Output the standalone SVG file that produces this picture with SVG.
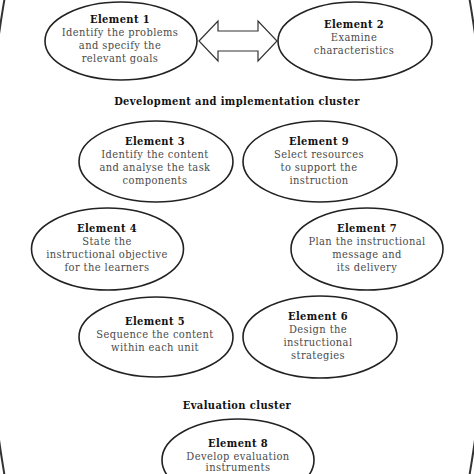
<svg xmlns="http://www.w3.org/2000/svg" width="474" height="474" viewBox="0 0 474 474">
<style>
.n ellipse{fill:#fff;stroke:#222;stroke-width:1.6}
text{font-family:"DejaVu Serif Condensed","DejaVu Serif",serif;font-size:11px;letter-spacing:0.4px;text-anchor:middle}
.h{font-weight:bold;fill:#111}
.b{fill:#4a4a4a}
.t{font-weight:bold;fill:#111}
</style>
<rect width="474" height="474" fill="#fff"/>
<ellipse cx="237" cy="237" rx="252" ry="617" fill="none" stroke="#333" stroke-width="2"/>
<text class="t" x="237" y="105">Development and implementation cluster</text>
<text class="t" x="237" y="408.5">Evaluation cluster</text>
<g id="connectors">
<polygon points="199,41 218,21 218,31 258,31 258,21 277,41 258,61 258,51 218,51 218,61" fill="#fff" stroke="#333" stroke-width="1.2"/>
</g>
<g id="e1" class="n"><ellipse cx="121" cy="41" rx="76" ry="39"/>
<text class="h" x="120" y="23">Element 1</text>
<text class="b" x="120" y="36">Identify the problems</text>
<text class="b" x="120" y="49">and specify the</text>
<text class="b" x="120" y="62">relevant goals</text></g>
<g id="e2" class="n"><ellipse cx="355" cy="41" rx="77" ry="39"/>
<text class="h" x="354" y="28">Element 2</text>
<text class="b" x="354" y="41">Examine</text>
<text class="b" x="354" y="54">characteristics</text></g>
<g id="e3" class="n"><ellipse cx="156" cy="161.5" rx="77" ry="40.5"/>
<text class="h" x="155" y="145">Element 3</text>
<text class="b" x="155" y="158">Identify the content</text>
<text class="b" x="155" y="171">and analyse the task</text>
<text class="b" x="155" y="184">components</text></g>
<g id="e9" class="n"><ellipse cx="320" cy="161.5" rx="77" ry="40.5"/>
<text class="h" x="319" y="145">Element 9</text>
<text class="b" x="319" y="158">Select resources</text>
<text class="b" x="319" y="171">to support the</text>
<text class="b" x="319" y="184">instruction</text></g>
<g id="e4" class="n"><ellipse cx="107.5" cy="249" rx="76" ry="41"/>
<text class="h" x="107" y="232">Element 4</text>
<text class="b" x="107" y="245">State the</text>
<text class="b" x="107" y="258">instructional objective</text>
<text class="b" x="107" y="271">for the learners</text></g>
<g id="e7" class="n"><ellipse cx="367" cy="249" rx="76" ry="41"/>
<text class="h" x="367" y="232">Element 7</text>
<text class="b" x="367" y="245">Plan the instructional</text>
<text class="b" x="367" y="258">message and</text>
<text class="b" x="367" y="271">its delivery</text></g>
<g id="e5" class="n"><ellipse cx="156" cy="337" rx="77" ry="40"/>
<text class="h" x="155" y="325">Element 5</text>
<text class="b" x="155" y="338">Sequence the content</text>
<text class="b" x="155" y="351">within each unit</text></g>
<g id="e6" class="n"><ellipse cx="320" cy="337" rx="77" ry="41"/>
<text class="h" x="318" y="320">Element 6</text>
<text class="b" x="318" y="333">Design the</text>
<text class="b" x="318" y="346">instructional</text>
<text class="b" x="318" y="359">strategies</text></g>
<g id="e8" class="n"><ellipse cx="238" cy="460" rx="76" ry="41"/>
<text class="h" x="238" y="447">Element 8</text>
<text class="b" x="238" y="459.5">Develop evaluation</text>
<text class="b" x="238" y="471">instruments</text></g>
</svg>
